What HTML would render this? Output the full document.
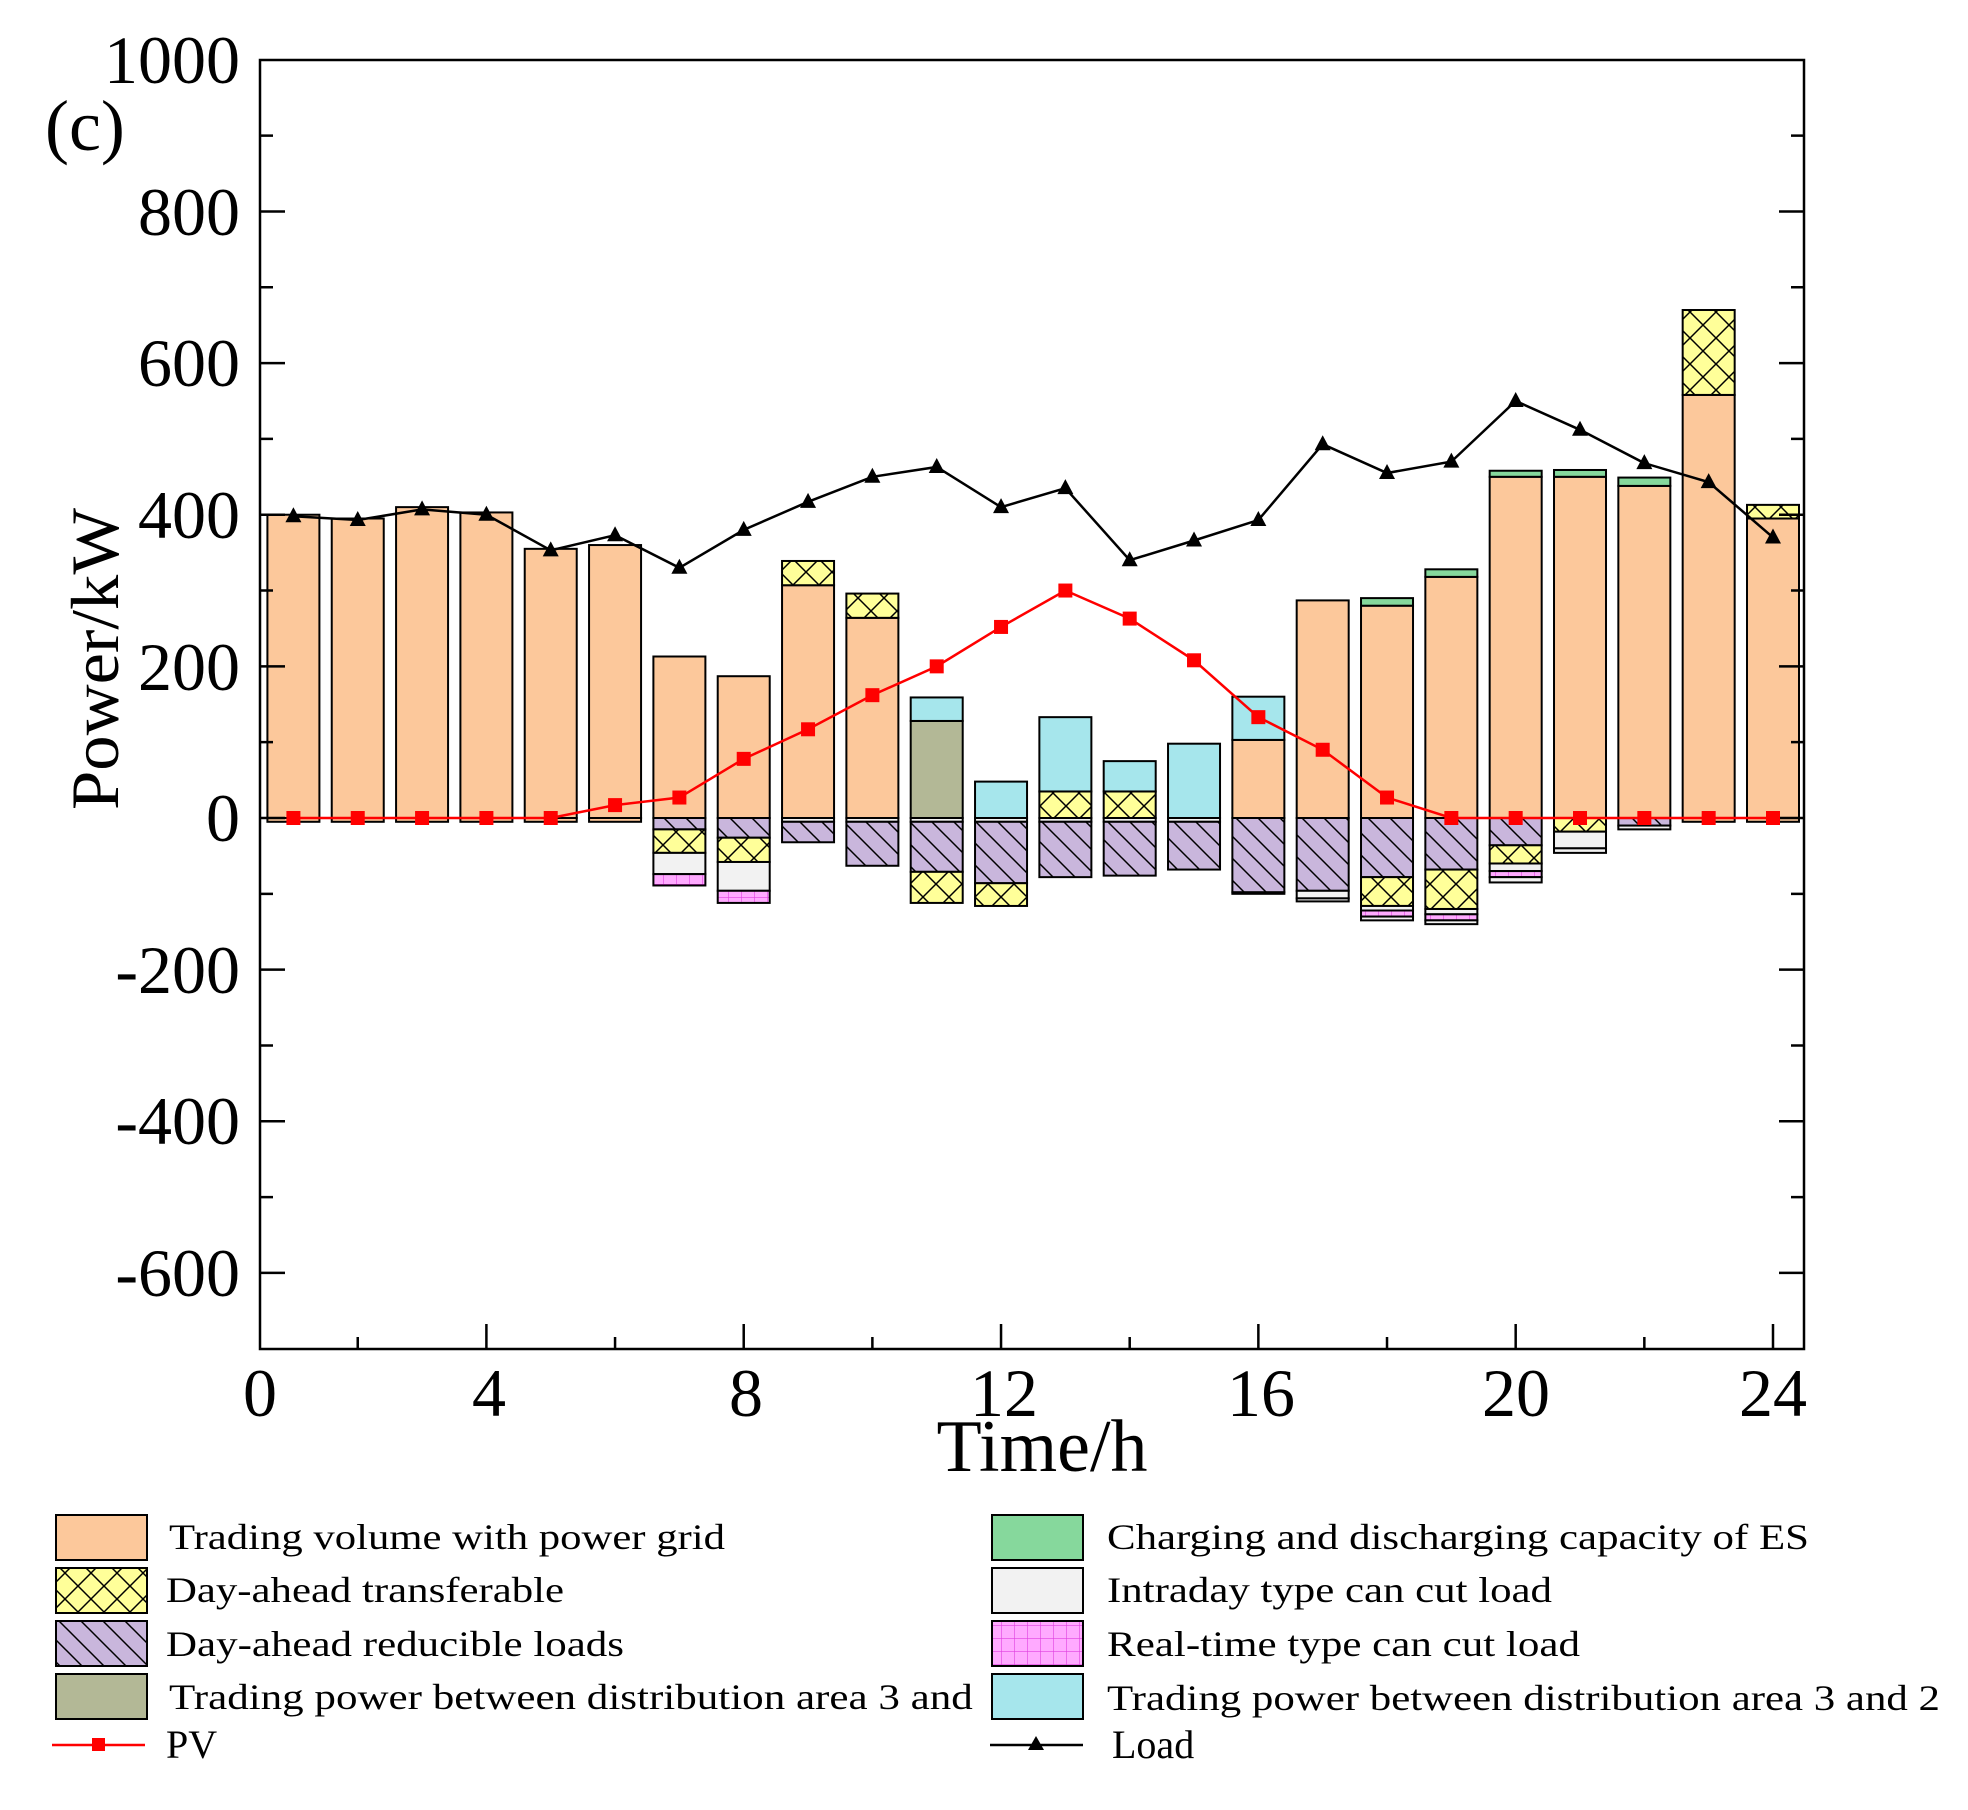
<!DOCTYPE html>
<html><head><meta charset="utf-8"><style>html,body{margin:0;padding:0;background:#fff}svg{display:block}</style></head>
<body>
<svg id="s" width="1968" height="1810" viewBox="0 0 1968 1810" xmlns="http://www.w3.org/2000/svg" font-family="Liberation Serif, serif">
<defs>
<pattern id="px" width="26" height="26" patternUnits="userSpaceOnUse"><rect width="26" height="26" fill="#ffff99"/><path d="M0 0L26 26M26 0L0 26" stroke="#000" stroke-width="1.5"/></pattern>
<pattern id="pp" width="22" height="22" patternUnits="userSpaceOnUse"><rect width="22" height="22" fill="#c9b6dc"/><path d="M0 0L22 22M-11 11L11 33M11 -11L33 11" stroke="#000" stroke-width="1.5"/></pattern>
<pattern id="pk" width="13" height="13" patternUnits="userSpaceOnUse"><rect width="13" height="13" fill="#ffaaff"/><path d="M0 0H13M0 0V13" stroke="#e040e0" stroke-width="1.2"/></pattern>
<clipPath id="cl"><rect x="0" y="1650" width="985" height="80"/></clipPath>
</defs>
<g id="bars"></g>
<rect x="260" y="60" width="1544" height="1289" fill="none" stroke="#000" stroke-width="2.5"/>
<g id="ticks" stroke="#000" stroke-width="2.5"></g>
<g id="lines"></g>
<g font-size="68" text-anchor="end">
<text x="240" y="83">1000</text><text x="240" y="235">800</text><text x="240" y="386">600</text><text x="240" y="538">400</text><text x="240" y="690">200</text><text x="240" y="841">0</text><text x="240" y="993">-200</text><text x="240" y="1144">-400</text><text x="240" y="1296">-600</text>
</g>
<g font-size="68" text-anchor="middle">
<text x="260" y="1416">0</text><text x="489" y="1416">4</text><text x="746" y="1416">8</text><text x="1004" y="1416">12</text><text x="1261" y="1416">16</text><text x="1516" y="1416">20</text><text x="1773" y="1416">24</text>
</g>
<text x="1042" y="1471" font-size="74" text-anchor="middle">Time/h</text>
<text transform="translate(118,659) rotate(-90)" font-size="68" text-anchor="middle" textLength="302" lengthAdjust="spacingAndGlyphs">Power/kW</text>
<text x="45" y="150" font-size="72">(c)</text>
<g font-size="36" stroke="#000" stroke-width="2">
<rect x="56" y="1515" width="91" height="45" fill="#fcc89b"/>
<rect x="56" y="1568" width="91" height="45" fill="url(#px)"/>
<rect x="56" y="1621" width="91" height="45" fill="url(#pp)"/>
<rect x="56" y="1674" width="91" height="45" fill="#b3b896"/>
<rect x="992" y="1515" width="91" height="45" fill="#86d89c"/>
<rect x="992" y="1568" width="91" height="45" fill="#f2f2f2"/>
<rect x="992" y="1621" width="91" height="45" fill="url(#pk)"/>
<rect x="992" y="1674" width="91" height="45" fill="#a6e6ec"/>
</g>
<g font-size="36">
<text x="169" y="1549" textLength="556" lengthAdjust="spacingAndGlyphs">Trading volume with power grid</text>
<text x="166" y="1602" textLength="398" lengthAdjust="spacingAndGlyphs">Day-ahead transferable</text>
<text x="166" y="1656" textLength="458" lengthAdjust="spacingAndGlyphs">Day-ahead reducible loads</text>
<text x="169" y="1709" textLength="836" lengthAdjust="spacingAndGlyphs" clip-path="url(#cl)">Trading power between distribution area 3 and 1</text>
<text x="166" y="1758" font-size="40">PV</text>
<text x="1107" y="1549" textLength="702" lengthAdjust="spacingAndGlyphs">Charging and discharging capacity of ES</text>
<text x="1107" y="1602" textLength="445" lengthAdjust="spacingAndGlyphs">Intraday type can cut load</text>
<text x="1107" y="1656" textLength="473" lengthAdjust="spacingAndGlyphs">Real-time type can cut load</text>
<text x="1107" y="1710" textLength="833" lengthAdjust="spacingAndGlyphs">Trading power between distribution area 3 and 2</text>
<text x="1112" y="1758" font-size="40">Load</text>
</g>
<line x1="52" y1="1745" x2="145" y2="1745" stroke="#f00" stroke-width="2.5"/><rect x="92" y="1738" width="13" height="13" fill="#f00"/>
<line x1="990" y1="1745" x2="1083" y2="1745" stroke="#000" stroke-width="2.5"/><path d="M1036 1736L1044 1750H1028Z" fill="#000"/>
</svg>
<script>
const NS="http://www.w3.org/2000/svg";
const Y=v=>818-v*0.7582, X=h=>1773-(24-h)*64.33;
const C={o:"#fcc89b",y:"url(#px)",p:"url(#pp)",w:"#f2f2f2",k:"url(#pk)",g:"#86d89c",c:"#a6e6ec",l:"#b3b896"};
const pos=[[["o",400]],[["o",395]],[["o",410]],[["o",403]],[["o",355]],[["o",360]],[["o",213]],[["o",187]],[["o",307],["y",339]],[["o",264],["y",296]],[["l",128],["c",159]],[["c",48]],[["y",35],["c",133]],[["y",35],["c",75]],[["c",98]],[["o",103],["c",160]],[["o",287]],[["o",280],["g",290]],[["o",318],["g",328]],[["o",450],["g",458]],[["o",450],["g",459]],[["o",438],["g",449]],[["o",558],["y",670]],[["o",395],["y",413]]];
const neg=[[["o",-5]],[["o",-5]],[["o",-5]],[["o",-5]],[["o",-5]],[["o",-5]],[["p",-15],["y",-46],["w",-74],["k",-89]],[["p",-26],["y",-58],["w",-96],["k",-112]],[["w",-5],["p",-32]],[["w",-5],["p",-63]],[["w",-5],["p",-71],["y",-112]],[["w",-5],["p",-86],["y",-116]],[["w",-5],["p",-78]],[["w",-5],["p",-76]],[["w",-5],["p",-68]],[["p",-98],["w",-100]],[["p",-96],["w",-106],["w",-110]],[["p",-78],["y",-116],["w",-122],["k",-130],["w",-135]],[["p",-68],["y",-120],["w",-127],["k",-135],["w",-140]],[["p",-36],["y",-60],["w",-70],["k",-78],["w",-85]],[["y",-18],["w",-40],["w",-46]],[["p",-10],["w",-15]],[["o",-5]],[["o",-5]]];
const bars=document.getElementById("bars");
function rect(x,y1,y2,f){const r=document.createElementNS(NS,"rect");r.setAttribute("x",x);r.setAttribute("y",Math.min(y1,y2));r.setAttribute("width",52);r.setAttribute("height",Math.abs(y2-y1));r.setAttribute("fill",f);r.setAttribute("stroke","#000");r.setAttribute("stroke-width","2");bars.appendChild(r);}
for(let i=0;i<24;i++){const x=X(i+1)-26;let b=0;for(const[t,v]of pos[i]){rect(x,Y(b),Y(v),C[t]);b=v;}b=0;for(const[t,v]of neg[i]){rect(x,Y(b),Y(v),C[t]);b=v;}}
const tk=document.getElementById("ticks");let d="";
for(let v=-700;v<=1000;v+=100){if(v==-700||v==1000)continue;const L=(v%200==0)?25:13;const y=Y(v);d+=`M260 ${y}h${L}M1804 ${y}h${-L}`;}
for(let h=2;h<=24;h+=2){const L=(h%4==0)?25:12;d+=`M${X(h)} 1349v${-L}`;}
const p=document.createElementNS(NS,"path");p.setAttribute("d",d);tk.appendChild(p);
const load=[398,393,407,400,353,373,330,380,417,450,463,410,435,340,366,393,493,455,470,550,512,468,443,370];
const pv=[0,0,0,0,0,17,27,78,117,162,200,252,300,263,208,133,90,27,0,0,0,0,0,0];
const lg=document.getElementById("lines");
function line(arr,col){const pl=document.createElementNS(NS,"polyline");pl.setAttribute("points",arr.map((v,i)=>X(i+1)+","+Y(v)).join(" "));pl.setAttribute("fill","none");pl.setAttribute("stroke",col);pl.setAttribute("stroke-width","2.5");lg.appendChild(pl);}
line(pv,"#f00");line(load,"#000");
pv.forEach((v,i)=>{const r=document.createElementNS(NS,"rect");r.setAttribute("x",X(i+1)-7);r.setAttribute("y",Y(v)-7);r.setAttribute("width",14);r.setAttribute("height",14);r.setAttribute("fill","#f00");lg.appendChild(r);});
load.forEach((v,i)=>{const t=document.createElementNS(NS,"path");const x=X(i+1),y=Y(v);t.setAttribute("d",`M${x} ${y-9}L${x+8} ${y+6}H${x-8}Z`);t.setAttribute("fill","#000");lg.appendChild(t);});
</script>
</body></html>
